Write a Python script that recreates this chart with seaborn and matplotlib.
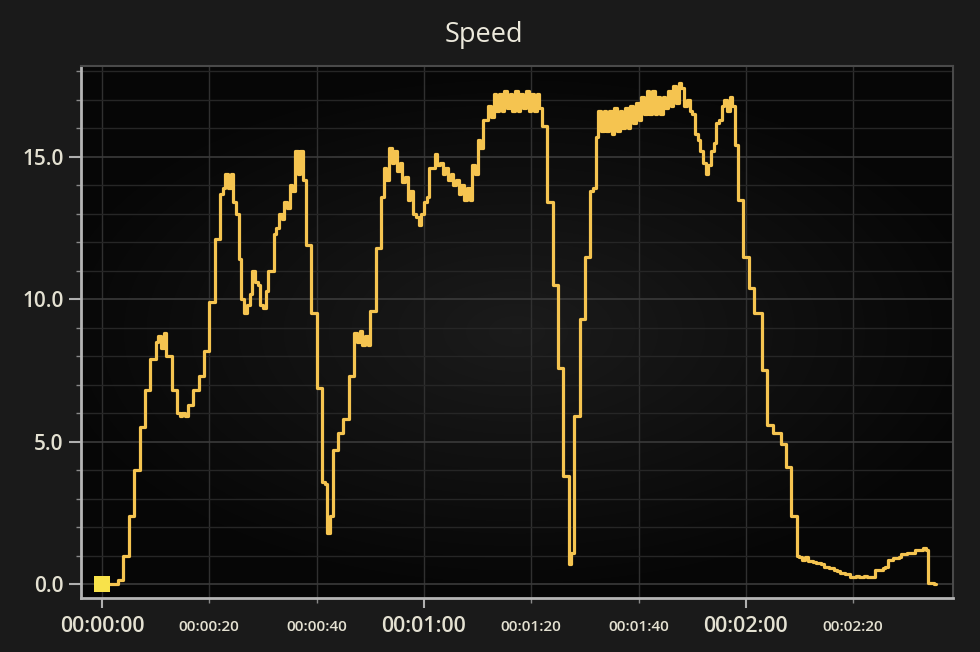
import numpy as np
import pandas as pd
import matplotlib
matplotlib.use('Agg')
import matplotlib.pyplot as plt
import seaborn as sns
from matplotlib.ticker import MultipleLocator

# speed samples, one every half second
sample_step = 0.5
speed = [
    0, 0, 0, 0, 0, 0, 0.15, 0.15, 1.0, 1.0,
    2.4, 2.4, 4.0, 4.0, 5.5, 5.5, 6.8, 6.8, 7.9, 7.9,
    8.5, 8.7, 8.3, 8.8, 8.0, 8.0, 6.8, 6.8, 6.0, 5.9,
    6.0, 5.9, 6.3, 6.3, 6.8, 6.8, 7.3, 7.3, 8.2, 8.2,
    9.9, 9.9, 12.1, 12.1, 13.7, 13.9, 14.4, 13.9, 14.4, 13.4,
    13.0, 11.4, 10.0, 9.5, 9.8, 10.2, 11.0, 10.6, 10.5, 9.8,
    9.7, 10.3, 11.0, 11.0, 12.3, 12.5, 13.0, 12.8, 13.4, 13.2,
    14.0, 13.8, 15.2, 14.4, 15.2, 14.2, 11.9, 11.9, 9.5, 9.5,
    6.9, 6.9, 3.6, 3.5, 1.8, 2.4, 4.7, 4.7, 5.3, 5.3,
    5.8, 5.8, 7.3, 7.3, 8.8, 8.5, 8.9, 8.4, 8.7, 8.4,
    9.6, 9.6, 11.8, 11.8, 13.6, 14.6, 14.2, 15.3, 14.8, 15.2,
    14.5, 14.8, 14.1, 14.3, 13.5, 13.8, 13.0, 12.9, 12.6, 13.0,
    13.4, 13.6, 14.6, 14.6, 15.1, 14.7, 14.8, 14.4, 14.6, 14.2,
    14.4, 14.0, 14.2, 13.7, 14.0, 13.5, 13.9, 13.5, 14.7, 14.4,
    15.6, 15.3, 16.3, 16.3, 16.8, 16.4, 17.2, 16.6, 17.2, 16.6,
    17.3, 16.7, 17.2, 16.6, 17.3, 16.6, 17.2, 16.7, 17.3, 16.6,
    17.2, 16.6, 17.2, 16.7, 16.1, 16.1, 13.4, 13.4, 10.5, 10.5,
    7.6, 7.6, 3.8, 3.8, 0.7, 1.1, 5.9, 5.9, 9.3, 9.3,
    11.5, 11.5, 13.8, 13.9, 15.7, 16.6, 15.9, 16.6, 15.9, 16.6,
    15.8, 16.7, 15.9, 16.6, 16.0, 16.7, 16.0, 16.8, 16.2, 16.9,
    16.3, 17.1, 16.5, 17.3, 16.5, 17.3, 16.5, 17.1, 16.5, 17.1,
    16.7, 17.3, 16.8, 17.5, 16.9, 17.6, 17.4, 16.8, 17.0, 16.6,
    16.5, 15.8, 15.6, 15.2, 14.8, 14.4, 14.7, 15.2, 15.5, 16.2,
    16.3, 16.8, 17.0, 16.6, 17.1, 16.8, 15.4, 13.5, 13.5, 11.5,
    11.5, 10.4, 10.4, 9.5, 9.5, 9.5, 7.5, 7.5, 5.6, 5.6,
    5.3, 5.3, 5.3, 4.9, 4.9, 4.1, 4.1, 2.4, 2.4, 1.0,
    0.95, 0.85, 0.95, 0.8, 0.8, 0.78, 0.75, 0.75, 0.7, 0.6,
    0.6, 0.55, 0.55, 0.5, 0.45, 0.4, 0.4, 0.35, 0.35, 0.25,
    0.25, 0.3, 0.25, 0.25, 0.3, 0.25, 0.25, 0.25, 0.5, 0.5,
    0.5, 0.55, 0.6, 0.85, 0.85, 0.9, 0.9, 0.95, 1.05, 1.05,
    1.1, 1.1, 1.1, 1.2, 1.2, 1.2, 1.25, 1.2, 0.05, 0.05,
    0.0, 0.0,
]
major_secs = [0, 60, 120]
minor_secs = [20, 40, 80, 100, 140]
y_major = [0, 5, 10, 15]

df = pd.DataFrame({'time': np.arange(len(speed)) * sample_step, 'speed': speed})


def hms(s):
    s = int(round(s))
    return f'{s // 3600:02d}:{(s % 3600) // 60:02d}:{s % 60:02d}'


sns.set_theme(style='dark')
plt.rcParams['font.family'] = ['Open Sans', 'DejaVu Sans']
plt.rcParams['font.weight'] = 'semibold'

label_col = '#e4e1d2'

fig = plt.figure(figsize=(9.8, 6.52), dpi=100, facecolor='#1a1a1a')
ax = fig.add_axes([0.0827, 0.0828, 0.8897, 0.816])
ax.set_facecolor('#0b0b0b')

xmin, xmax, ymin, ymax = -3.9, 158.6, -0.49, 18.19

# soft radial shading of the plot area
gx, gy = np.meshgrid(np.linspace(-1, 1, 200), np.linspace(-1, 1, 140))
shade = np.clip(1 - np.sqrt(gx ** 2 * 0.8 + gy ** 2), 0, 1)
ax.imshow(shade, extent=[xmin, xmax, ymin, ymax], aspect='auto', zorder=0,
          cmap=matplotlib.colors.LinearSegmentedColormap.from_list('bg', ['#060606', '#1b1b1b']),
          interpolation='bilinear')

sns.lineplot(data=df, x='time', y='speed', ax=ax, color='#f5c450', linewidth=2.3,
             drawstyle='steps-post', estimator=None, zorder=3)
ax.scatter(df['time'].iloc[:1], df['speed'].iloc[:1], marker='s', s=130,
           color='#f8e24a', zorder=5, linewidths=0)

ax.set_xlim(xmin, xmax)
ax.set_ylim(ymin, ymax)
ax.set_xlabel('')
ax.set_ylabel('')

# x axis: hh:mm:ss, big labels each minute, small ones every 20 s
ax.set_xticks(major_secs, [hms(s) for s in major_secs])
ax.set_xticks(minor_secs, [hms(s) for s in minor_secs], minor=True)

ax.set_yticks(y_major, [f'{v:.1f}' for v in y_major])
ax.yaxis.set_minor_locator(MultipleLocator(1))

ax.tick_params(axis='y', which='major', length=8.6, width=1.5, color='#b0b0b0',
               labelcolor=label_col, labelsize=15, pad=4, left=True)
ax.tick_params(axis='y', which='minor', length=3.6, width=1, color='#8a8a8a', left=True)
ax.tick_params(axis='x', which='major', length=7.2, width=1.5, color='#b0b0b0',
               labelcolor=label_col, labelsize=15.5, pad=6, bottom=True)
ax.tick_params(axis='x', which='minor', length=3.6, width=1, color='#8a8a8a',
               labelcolor=label_col, labelsize=11, pad=12, bottom=True)

ax.grid(which='major', axis='y', color='#3a3a3a', linewidth=1.2, zorder=1)
ax.grid(which='minor', axis='y', color='#262626', linewidth=1, zorder=1)
ax.grid(which='both', axis='x', color='#303030', linewidth=1, zorder=1)
ax.set_axisbelow(True)

for side in ['left', 'bottom']:
    ax.spines[side].set_color('#b5b5b5')
    ax.spines[side].set_linewidth(2)
for side in ['top', 'right']:
    ax.spines[side].set_color('#4a4a4a')
    ax.spines[side].set_linewidth(1.5)
for sp in ax.spines.values():
    sp.set_visible(True)

fig.text(0.494, 0.946, 'Speed', ha='center', va='center', fontsize=19.5,
         fontweight='normal', color='#ece9dc')

fig.savefig('out.png', dpi=100, facecolor=fig.get_facecolor())
